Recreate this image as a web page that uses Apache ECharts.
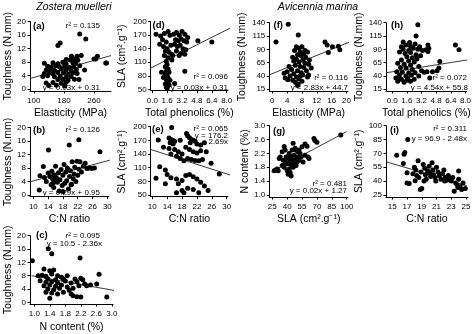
<!DOCTYPE html>
<html><head><meta charset="utf-8">
<script src="https://cdn.jsdelivr.net/npm/echarts@6/dist/echarts.min.js"></script>
<style>html,body{margin:0;padding:0;background:#fff}#c{width:474px;height:334px}</style>
</head><body><div id="c"></div>
<script>
// ---------- data ----------
const ptsA = [[200,9.7],[215,9.7],[226,9.9],[186,8.7],[197,8.6],[208,8.9],[217,8.5],[260,8.9],
[128,7.6],[151,7.8],[164,7.5],[177,7.9],[186,7.4],[204,7.7],[211,7.8],[291,7.7],
[137,6.7],[146,6.5],[158,6.9],[168,6.6],[182,6.8],[195,6.4],[206,6.6],[222,6.9],
[133,5.6],[142,5.8],[155,5.5],[173,5.9],[186,5.7],[199,5.4],[213,5.8],[235,5.6],
[128,4.6],[142,4.8],[151,4.5],[164,4.9],[179,4.7],[191,4.4],[204,4.8],[215,4.6],
[124,3.7],[137,3.9],[155,3.6],[170,3.8],[186,3.5],[199,3.7],
[164,2.8],[177,2.9],[191,2.6],[208,2.9],[220,2.8],
[133,1.8],[151,1.9],[173,1.7],[186,2.0],[140,1.0],[160,1.1],[182,0.9],
[222,16.3],[238,14.8],[170,13.6],[164,12.9],[264,8.9],[269,9.7],[293,7.7]];
const trendA = [[90,3.1],[305,9.9]];

const ptsD = [[0.4,172],[0.9,168],[1.3,174],[1.7,178],[1.9,170],[1.1,160],[1.5,155],[0.8,150],[1.2,145],[1.6,140],[2.0,148],[1.4,135],[1.8,132],[2.1,128],[1.3,125],[1.7,120],
[1.5,112],[1.6,105],[1.4,100],[1.7,95],[1.5,90],[1.8,88],[1.4,84],[1.6,80],[1.7,75],[1.5,72],[1.9,70],[1.6,66],[1.4,62],[1.7,58],[1.5,55],[1.6,52],[1.8,60],[1.2,76],[1.0,88],
[2.3,172],[2.6,176],[2.9,170],[3.2,178],[3.5,172],[3.8,165],[2.5,160],[2.8,158],[3.1,162],[3.4,158],[3.7,155],[2.4,150],[2.7,145],[3.0,148],[3.3,140],[3.6,138],[2.6,135],[3.1,130],[2.2,125],[2.9,125],[3.5,128],[2.1,115],[3.5,90],[4.9,158],[6.4,155],[2.4,63]];
const trendD = [[-0.17,97],[9.25,195]];

const ptsF = [[4.3,137],[1.0,104],[7.0,117],[14.2,104],[14.8,98],[15.1,84],[16.2,95],[17.8,96],[18.2,89],
[6.5,95],[7.2,92],[8.0,95],[8.8,88],[6.0,88],[7.5,85],[8.5,82],[9.5,85],[6.8,80],[7.8,78],[5.5,75],[9.0,75],[6.5,72],[8.2,70],[10,70],[5.8,68],[7.2,66],[8.8,64],[9.8,62],[6.2,60],[7.5,58],[4.5,58],[8.5,56],[10.5,55],[5.2,52],[6.8,50],[9.2,50],[4.0,48],[7.8,46],[3.2,45],[5.8,44],[8.2,42],[9.8,42],[4.8,40],[6.5,38],[7.2,35],[3.5,36],[5.5,32],[8.0,30],[6.2,28],[7.0,25],[4.2,33],[6.8,22],[7.5,40],[9.5,38]];
const trendF = [[-0.8,42],[20.9,104]];

const ptsH = [[2.8,136],[2.6,115],[1.2,104],[1.9,103],[3.9,98],[4.0,92],[3.7,89],[3.9,86],[6.9,98],[7.3,89],[5.2,67],[5.1,55],[4.9,50],[4.1,36],
[1.0,95],[1.5,98],[2.0,96],[2.5,100],[3.0,95],[1.2,90],[1.8,88],[2.3,92],[2.8,90],[3.3,88],[0.8,85],[1.4,82],[2.0,84],[2.6,80],[3.1,78],[1.6,76],[2.2,74],[2.7,72],[1.0,70],[1.8,68],[2.4,66],[0.6,64],[1.3,62],[2.0,60],[2.9,58],[0.9,56],[1.5,55],[2.2,52],[3.2,50],[0.5,48],[1.1,47],[1.8,46],[2.5,46],[3.5,47],[0.8,42],[1.5,40],[2.1,42],[2.9,40],[0.4,36],[1.0,34],[1.7,36],[2.4,34],[0.6,30],[1.3,28],[2.0,30],[3.8,48],[4.4,48],[0.7,38],[1.6,32]];
const trendH = [[-0.68,46],[8.17,70]];

const ptsB = [[13,5.2],[13.5,4.0],[14,6.5],[14.5,5.5],[14.8,3.0],[15,7.0],[15.2,4.8],[15.6,6.0],[15.5,2.2],[16,8.5],[16.2,5.2],[16.5,3.8],[16.8,6.6],[17,1.2],[17.2,4.5],[17.5,7.5],[17.8,2.8],[18,5.8],[18.3,9.0],[18.5,3.5],[18.8,6.8],[19,4.2],[19.2,8.0],[19.5,1.8],[19.8,5.5],[20,7.2],[20.2,3.0],[20.5,9.8],[20.8,4.8],[21,6.2],[21.2,8.2],[21.5,4.0],[21.8,10.0],[22,5.8],[22.3,7.6],[22.6,9.8],[23,6.8],[23.5,8.5],[24,9.4],[24.5,7.8],[25,8.0],[25.8,7.8],[26.5,8.0],[11.8,5.7],[11.6,1.5],[12.7,8.4],[15.4,3.6],[14.1,13.3],[19.7,14.8],[22.3,16.3],[28,12.8],[18,1.0],[20.3,3.2],[16,4.6]];
const trendB = [[9.1,3.9],[30.7,10.3]];

const ptsE = [[15.2,198],[11.6,171],[14.5,175],[15,172],[15.5,170],[16,168],[14.8,165],[15.6,162],[17.5,170],[19.2,185],[19.5,180],[20,176],[20.5,172],[21,170],[21.5,168],[20.2,165],[22,162],[23,160],[24,165],[13,155],[14.5,152],[16,150],[17,145],[18,140],[19,155],[20,150],[21,145],[22,142],[23,147],[24.5,145],[15,140],[16.5,135],[17.5,130],[18.5,125],[19.5,130],[20.5,128],[21.5,126],[22.5,125],[23.5,128],[25.8,120],[28,96],[12,112],[13.5,105],[11,87],[14,95],[15,88],[16.5,85],[18,82],[19,93],[20,95],[21,90],[22,85],[24,70],[13.5,75],[17,75],[18,60],[18.5,55],[19.5,65],[21,62],[22.5,55],[25,60],[16.5,55],[23,78]];
const trendE = [[9.57,150],[30.9,94]];

const ptsG = [[28,1.72],[30,1.75],[31,1.7],[32,2.05],[33,2.1],[35,1.85],[35,2.25],[36,2.0],[37,1.8],[38,2.3],[38,1.95],[39,2.1],[40,1.7],[40,1.9],[41,2.05],[41,1.6],[42,1.75],[42,2.2],[43,1.95],[43,1.65],[44,2.1],[44,1.85],[45,2.3],[45,2.0],[46,1.8],[46,2.49],[47,2.15],[47,1.9],[48,2.35],[48,2.0],[49,1.85],[49,2.29],[50,2.1],[50,1.95],[51,2.25],[52,2.0],[53,2.2],[54,2.1],[55,2.39],[56,1.95],[58,2.47],[58,2.15],[60,2.41],[61,2.1],[62,2.05],[67,2.63],[68,2.57],[70,2.52],[94,2.73],[27,1.7],[44,1.55],[37,2.4],[52,2.3]];
const trendG = [[24,1.67],[100,2.83]];

const ptsI = [[15.6,68],[16.6,69],[16.7,71],[16.5,59],[17.1,85],[17.0,49],[17.0,38],[17.3,37.5],[17.8,48],[18.0,55],[18.2,52],[18.3,46],[18.5,62],[18.6,44],[18.8,31],[19,32],[18.9,50],[19.2,58],[19.4,54],[19.5,47],[19.6,42],[19.8,51],[20,56],[20.1,49],[20.2,45],[20.4,60],[20.5,52],[20.6,47],[20.8,44],[21,55],[21.2,50],[21.4,46],[21.6,42],[21.8,48],[22,52],[22.2,44],[22.4,41],[22.6,46],[22.8,43],[23,40],[23.2,44],[23.4,29],[23.6,38],[23.8,36],[24,42],[24,51],[24.2,34],[24.4,31],[24.6,38],[24.9,32],[23.9,33],[20.9,40],[19.3,40],[22.1,40],[18.1,40.5]];
const trendI = [[14.15,61],[25.1,35]];

const ptsC = [[0.95,12.5],[1.36,16.1],[1.45,14.6],[2.18,13.3],[2.67,8.4],[2.61,5.5],[2.87,1.6],[1.25,10],[1.4,9.5],[1.5,9.7],[1.2,8.1],[1.3,7.8],[1.45,8.5],[1.6,8.0],[1.7,7.5],[1.35,7],[1.55,6.8],[1.75,7.0],[1.3,6.0],[1.45,6.2],[1.6,5.8],[1.8,6.4],[1.25,5.0],[1.4,5.2],[1.55,4.8],[1.7,5.2],[1.85,4.6],[1.35,4.0],[1.5,3.8],[1.65,4.2],[1.9,3.6],[1.3,3.0],[1.45,2.8],[1.6,2.5],[1.75,3.0],[1.4,1.2],[1.95,5.8],[2.0,4.2],[2.05,7.0],[2.1,6.2],[2.15,5.0],[2.2,7.2],[2.25,6.8],[2.3,5.5],[2.0,2.0],[2.1,1.7],[2.2,1.6],[1.85,8.0],[1.95,2.5],[2.35,5.0],[1.1,8.0],[1.15,6.5],[2.45,5.2]];
const trendC = [[0.93,8.0],[3.09,3.5]];

// tick labels
const ticksElast = [100,180,260];
const ticksTough = [0,4,8,12,16,20];
const ticksPhen = [0,1.6,3.2,4.8,6.4,8.0];
const ticksSLA = [50,80,110,140,170,200];
const ticksElastA = [0,4,8,12,16,20];
const ticksToughA = [15,40,65,90,115,140];
const ticksCN = [10,14,18,22,26,30];
const ticksSLAg = [25,40,55,70,85,100];
const ticksNg = [1.0,1.4,1.8,2.2,2.6,3.0];
const ticksCNi = [15,17,19,21,23,25];
const ticksSLAi = [25,40,55,70,85,100];
const ticksNc = [1.0,1.4,1.8,2.2,2.6,3.0];

// ---------- layout ----------
const FF = 'Liberation Sans, Arial, sans-serif';
const panels = [
 {g:[30,21.5,81,69.5], x:[90,305], y:[-0.6,20], xt:ticksElast, yt:ticksTough, pts:ptsA, tr:trendA, xn:'Elasticity (MPa)', yn:'Toughness (N.mm)', yg:15, xg:17},
 {g:[150.7,21.7,77.3,69], x:[-0.17,8.14], y:[46.9,200], xt:ticksPhen, yt:ticksSLA, pts:ptsD, tr:trendD, xn:'Total phenolics (%)', yn:'SLA (cm².g⁻¹)', yg:23, xg:17, xf:1},
 {g:[269.3,22.7,78.7,68.3], x:[-0.8,20.4], y:[11.8,140], xt:ticksElastA, yt:ticksToughA, pts:ptsF, tr:trendF, xn:'Elasticity (MPa)', yn:'Toughness (N.mm)', yg:16, xg:17},
 {g:[386,22.7,82,68.3], x:[-0.68,8.14], y:[11.8,140], xt:ticksPhen, yt:ticksToughA, pts:ptsH, tr:trendH, xn:'Total phenolics (%)', yn:'Toughness (N.mm)', yg:18, xg:17, xf:1},
 {g:[30,127.3,79,69.4], x:[9.1,30.45], y:[-0.5,20], xt:ticksCN, yt:ticksTough, pts:ptsB, tr:trendB, xn:'C:N ratio', yn:'Toughness (N.mm)', yg:15, xg:17},
 {g:[150.7,126.7,77.3,70], x:[9.57,30.35], y:[46.3,200], xt:ticksCN, yt:ticksSLA, pts:ptsE, tr:trendE, xn:'C:N ratio', yn:'SLA (cm².g⁻¹)', yg:23, xg:17},
 {g:[269.3,125.7,78.7,71.3], x:[22,101.3], y:[0.942,3.0], xt:ticksSLAg, yt:ticksNg, pts:ptsG, tr:trendG, xn:'SLA (cm².g⁻¹)', yn:'N content (%)', yg:16, xg:17, yf:1},
 {g:[386,125.7,82,71.3], x:[14.15,25.27], y:[22.8,100], xt:ticksCNi, yt:ticksSLAi, pts:ptsI, tr:trendI, xn:'C:N ratio', yn:'SLA (cm².g⁻¹)', yg:18, xg:17},
 {g:[30,235.7,83,71], x:[0.889,3.03], y:[-0.5,20], xt:ticksNc, yt:ticksTough, pts:ptsC, tr:trendC, xn:'N content (%)', yn:'Toughness (N.mm)', yg:15, xg:18, xf:1}
];

const grid=[], xAxis=[], yAxis=[], series=[];
const axLine = {show:true, onZero:false, lineStyle:{color:'#000', width:1}};
panels.forEach((p,i)=>{
  grid.push({left:p.g[0], top:p.g[1], width:p.g[2], height:p.g[3], containLabel:false});
  xAxis.push({type:'value', gridIndex:i, min:p.x[0], max:p.x[1],
    axisLine:axLine, splitLine:{show:false},
    axisTick:{show:true, length:2.5, customValues:p.xt, lineStyle:{color:'#000'}},
    axisLabel:{customValues:p.xt, margin:6, fontSize:8, fontFamily:FF, color:'#000',
      formatter: v => p.xf ? Number(v).toFixed(1) : String(v)},
    name:p.xn, nameLocation:'middle', nameGap:p.xg,
    nameTextStyle:{fontSize:10.5, fontFamily:FF, color:'#000', verticalAlign:'top'}});
  yAxis.push({type:'value', gridIndex:i, min:p.y[0], max:p.y[1],
    axisLine:axLine, splitLine:{show:false},
    axisTick:{show:true, length:2.5, customValues:p.yt, lineStyle:{color:'#000'}},
    axisLabel:{customValues:p.yt, margin:4, fontSize:8, fontFamily:FF, color:'#000',
      formatter: v => p.yf ? Number(v).toFixed(1) : String(v)},
    name:p.yn, nameLocation:'middle', nameGap:p.yg, nameRotate:90,
    nameTextStyle:{fontSize:10.5, fontFamily:FF, color:'#000', verticalAlign:'bottom'}});
  series.push({type:'scatter', xAxisIndex:i, yAxisIndex:i, data:p.pts, symbolSize:5,
    itemStyle:{color:'#000', opacity:1}, silent:true, z:3});
  series.push({type:'line', xAxisIndex:i, yAxisIndex:i, data:p.tr, symbol:'none', clip:false,
    lineStyle:{color:'#222', width:0.9}, silent:true, z:2});
});

function txt(x,y,t,opt){
  opt = opt||{};
  return {type:'text', x:x, y:y, silent:true, z:10,
    style:{text:t, fill:'#000', font:(opt.font||'8px '+FF),
      textAlign:opt.align||'right', align:opt.align||'right',
      textVerticalAlign:'middle', verticalAlign:'middle'}};
}
const B = 'bold 9.5px '+FF;
const graphic = [
  txt(74,7.5,'Zostera muelleri',{align:'center', font:'italic 10.5px '+FF}),
  txt(318,7,'Avicennia marina',{align:'center', font:'italic 10.5px '+FF}),
  txt(33,26,'(a)',{align:'left',font:B}), txt(100,25.5,'r² = 0.135'), txt(100,88,'y = 0.03x + 0.31'),
  txt(152.5,25,'(d)',{align:'left',font:B}), txt(228,77,'r² = 0.096'), txt(228,88,'y = 0.03x + 0.31'),
  txt(273.5,25.5,'(f)',{align:'left',font:B}), txt(348,78,'r² = 0.116'), txt(348,88,'y = 2.83x + 44.7'),
  txt(391,25.5,'(h)',{align:'left',font:B}), txt(467,78,'r² = 0.072'), txt(468,88,'y = 4.54x + 55.8'),
  txt(33,130,'(b)',{align:'left',font:B}), txt(100,130,'r² = 0.126'), txt(100,193,'y = 0.29x + 0.95'),
  txt(152,129,'(e)',{align:'left',font:B}), txt(228,129,'r² = 0.065'), txt(228,135.5,'y = 176.2'), txt(228,142,'- 2.69x'),
  txt(273,131,'(g)',{align:'left',font:B}), txt(347,184,'r² = 0.481'), txt(347,191,'y = 0.02x + 1.27'),
  txt(390,130,'(i)',{align:'left',font:B}), txt(467,129,'r² = 0.311'), txt(467,139,'y = 96.9 - 2.48x'),
  txt(36,235.5,'(c)',{align:'left',font:B}), txt(100,235.5,'r² = 0.095'), txt(102,244,'y = 10.5 - 2.36x')
];

const chart = echarts.init(document.getElementById('c'), null, {renderer:'canvas'});
chart.setOption({animation:false, backgroundColor:'#fff', grid, xAxis, yAxis, series, graphic});
</script></body></html>
